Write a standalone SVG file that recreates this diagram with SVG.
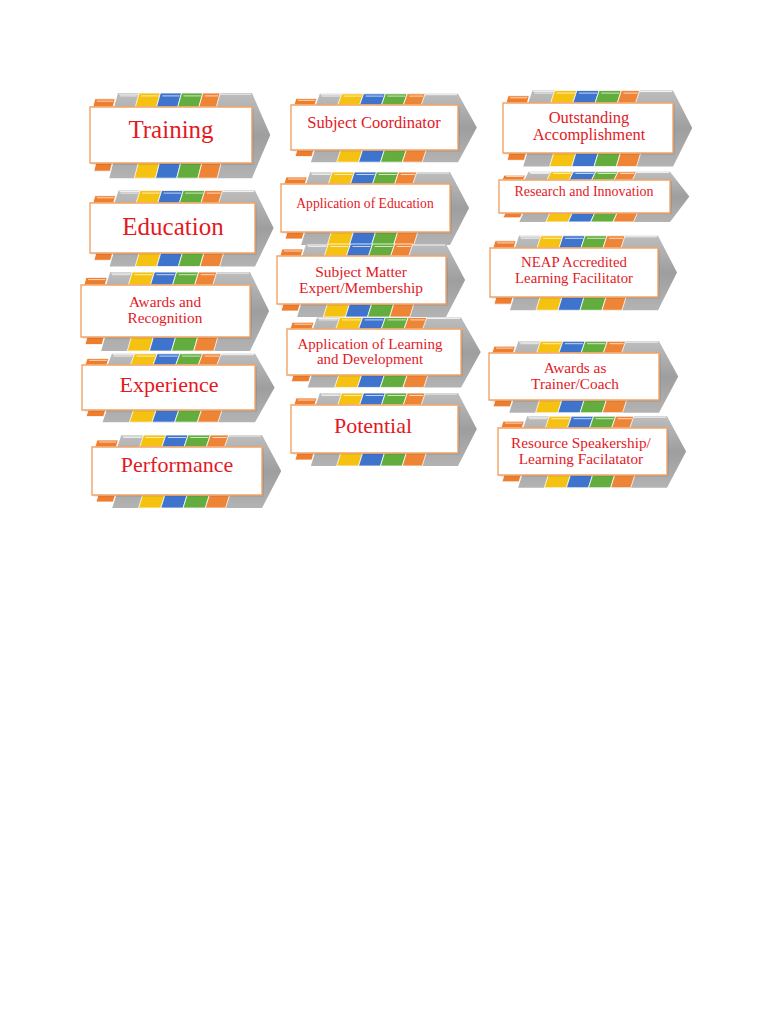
<svg xmlns="http://www.w3.org/2000/svg" width="768" height="1024" viewBox="0 0 768 1024">
<style>
.lbl{font-family:"Liberation Serif","Times New Roman",serif;fill:#E3191F;text-anchor:middle}
.big{font-size:25px}
.mid{font-size:22px}
.sm{font-size:15.3px}
.st{stroke:#ffffff;stroke-width:0.8;vector-effect:non-scaling-stroke}
</style>
<defs>
<linearGradient id="gr" x1="0" y1="0" x2="0" y2="1">
<stop offset="0" stop-color="#BDBDBD"/>
<stop offset="0.5" stop-color="#9E9E9E"/>
<stop offset="1" stop-color="#B3B3B3"/>
</linearGradient>
<g id="tile">
<polygon points="29,-12 168,-12 187,24 168,61 20,61 24,48 25,0" fill="url(#gr)"/>
<polyline points="30,-11 167,-11" stroke="#F2F2F2" stroke-width="1" fill="none" vector-effect="non-scaling-stroke"/>
<polygon class="st" points="5,-7 26,-7 24,0 3,0" fill="#EE7D2E"/>
<polygon class="st" points="51,-12 73,-12 69,0 47,0" fill="#F5C211"/>
<polygon class="st" points="73,-12 95,-12 91,0 69,0" fill="#3F74CC"/>
<polygon class="st" points="95,-12 117,-12 113,0 91,0" fill="#63AC3E"/>
<polygon class="st" points="117,-12 135,-12 131,0 113,0" fill="#EE8436"/>
<g stroke="#ffffff" stroke-opacity="0.7" stroke-width="1" vector-effect="non-scaling-stroke" fill="none">
<line x1="7" y1="-5" x2="24" y2="-5" vector-effect="non-scaling-stroke"/>
<line x1="53" y1="-9.5" x2="71" y2="-9.5" vector-effect="non-scaling-stroke"/>
<line x1="75" y1="-9.5" x2="93" y2="-9.5" vector-effect="non-scaling-stroke"/>
<line x1="97" y1="-9.5" x2="115" y2="-9.5" vector-effect="non-scaling-stroke"/>
<line x1="119" y1="-9.5" x2="133" y2="-9.5" vector-effect="non-scaling-stroke"/>
<line x1="31" y1="-9.5" x2="49" y2="-9.5" vector-effect="non-scaling-stroke"/>
</g>
<polygon class="st" points="6,48 23,48 21,55 4,55" fill="#EE7D2E"/>
<polygon class="st" points="50,48 72,48 68,61 46,61" fill="#F5C211"/>
<polygon class="st" points="72,48 94,48 90,61 68,61" fill="#3F74CC"/>
<polygon class="st" points="94,48 116,48 112,61 90,61" fill="#63AC3E"/>
<polygon class="st" points="116,48 136,48 132,61 112,61" fill="#EE8436"/>
<rect x="1.5" y="1.5" width="168" height="48" fill="#000000" fill-opacity="0.12"/>
<rect x="0" y="0" width="168" height="48" fill="#ffffff" stroke="#F2A466" stroke-width="1.4" vector-effect="non-scaling-stroke"/>
</g>
</defs>

<g id="connectors"></g>

<g id="node-training">
<use href="#tile" transform="translate(90 107) scale(0.964 1.167)"/>
<text class="lbl big" x="171" y="138">Training</text>
</g>
<g id="node-education">
<use href="#tile" transform="translate(90 203) scale(0.982 1.042)"/>
<text class="lbl big" x="173" y="235">Education</text>
</g>
<g id="node-awards-recognition">
<use href="#tile" transform="translate(81 285) scale(1.006 1.083)"/>
<text class="lbl sm" x="165" y="307">Awards and</text>
<text class="lbl sm" x="165" y="323">Recognition</text>
</g>
<g id="node-experience">
<use href="#tile" transform="translate(82 365) scale(1.030 0.9375)"/>
<text class="lbl mid" x="169" y="392">Experience</text>
</g>
<g id="node-performance">
<use href="#tile" transform="translate(92 447) scale(1.012 1)"/>
<text class="lbl mid" x="177" y="472">Performance</text>
</g>

<g id="node-subject-coordinator">
<use href="#tile" transform="translate(291 105) scale(0.994 0.9375)"/>
<text class="lbl" style="font-size:16.5px" x="374" y="128">Subject Coordinator</text>
</g>
<g id="node-application-education">
<use href="#tile" transform="translate(281 184) scale(1.006 1)"/>
<text class="lbl" style="font-size:13.6px" x="365" y="208">Application of Education</text>
</g>
<g id="node-subject-matter">
<use href="#tile" transform="translate(277 256) scale(1.006 1)"/>
<text class="lbl" style="font-size:15.5px" x="361" y="277">Subject Matter</text>
<text class="lbl" style="font-size:15.5px" x="361" y="293">Expert/Membership</text>
</g>
<g id="node-application-learning">
<use href="#tile" transform="translate(287 329) scale(1.036 0.958)"/>
<text class="lbl" style="font-size:15px" x="370" y="349">Application of Learning</text>
<text class="lbl" style="font-size:15px" x="370" y="364">and Development</text>
</g>
<g id="node-potential">
<use href="#tile" transform="translate(291 405) scale(0.994 1)"/>
<text class="lbl mid" x="373" y="433">Potential</text>
</g>

<g id="node-outstanding">
<use href="#tile" transform="translate(503 103) scale(1.012 1.042)"/>
<text class="lbl" style="font-size:16.5px" x="589" y="123">Outstanding</text>
<text class="lbl" style="font-size:16.5px" x="589" y="140">Accomplishment</text>
</g>
<g id="node-research">
<use href="#tile" transform="translate(499 180) scale(1.018 0.6875)"/>
<text class="lbl" style="font-size:14px" x="584" y="196">Research and Innovation</text>
</g>
<g id="node-neap">
<use href="#tile" transform="translate(490 248) scale(1 1.021)"/>
<text class="lbl" style="font-size:14.8px" x="574" y="267">NEAP Accredited</text>
<text class="lbl" style="font-size:14.8px" x="574" y="283">Learning Facilitator</text>
</g>
<g id="node-awards-trainer">
<use href="#tile" transform="translate(489 353) scale(1.012 0.979)"/>
<text class="lbl" style="font-size:15.3px" x="575" y="373">Awards as</text>
<text class="lbl" style="font-size:15.3px" x="575" y="389">Trainer/Coach</text>
</g>
<g id="node-resource">
<use href="#tile" transform="translate(498 428) scale(1.006 0.979)"/>
<text class="lbl" style="font-size:15.3px" x="581" y="448">Resource Speakership/</text>
<text class="lbl" style="font-size:15.3px" x="581" y="464">Learning Facilatator</text>
</g>
</svg>
